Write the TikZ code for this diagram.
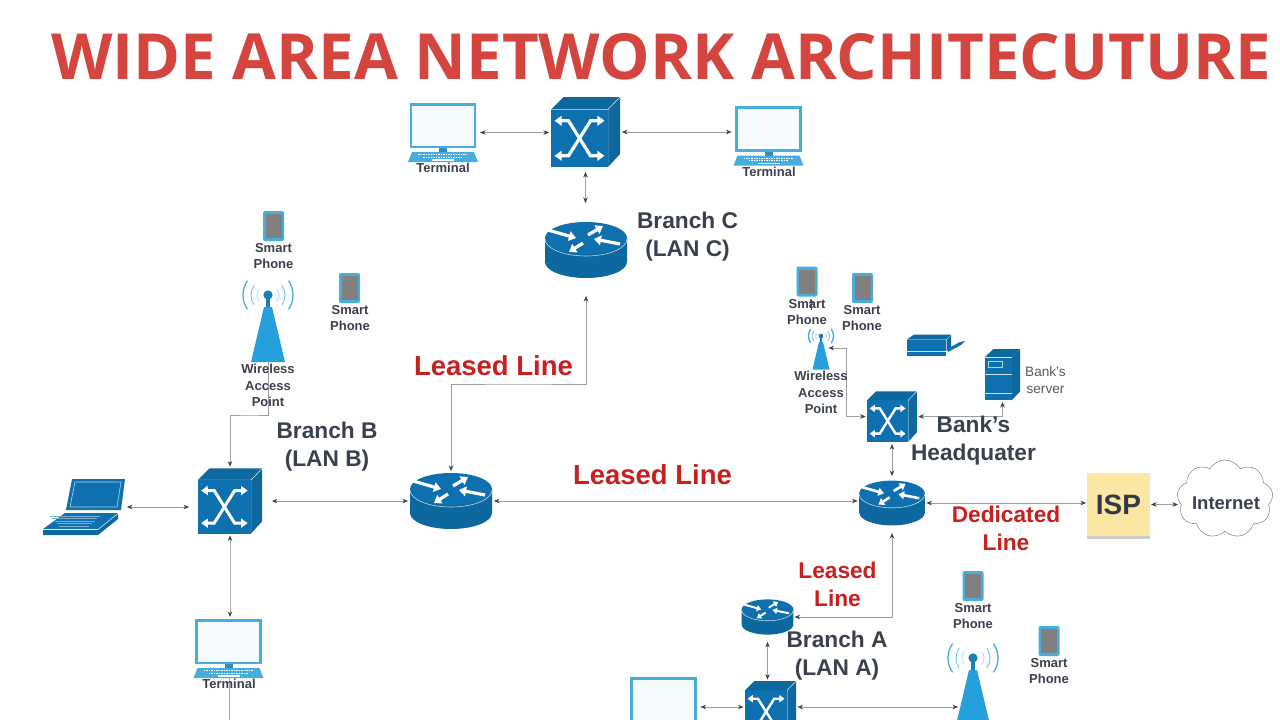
\documentclass[tikz,border=0pt]{standalone}
\usepackage{fontspec}
\setmainfont{Liberation Sans}
\newfontfamily\titlefont{Open Sans}
\usetikzlibrary{arrows.meta,shapes.symbols,shadows}

\definecolor{iconblue}{HTML}{0F70B0}
\definecolor{iconside}{HTML}{0C689F}
\definecolor{skyblue}{HTML}{46ADDC}
\definecolor{towerblue}{HTML}{25A0DC}
\definecolor{towerhead}{HTML}{1A7DB5}
\definecolor{screenfill}{HTML}{F6FBFE}
\definecolor{darktext}{HTML}{3A404C}
\definecolor{leasedred}{HTML}{C81F1F}
\definecolor{titlered}{HTML}{D4453F}
\definecolor{notefill}{HTML}{FBE6A4}

\tikzset{
  iconlw/.store in=\iconlw, iconlw=3.2pt,
  box/.style={inner sep=0pt,outer sep=2pt,transform shape},
  whitearrow/.style={white,line width=\iconlw,-{Triangle[length=0pt 2.2,width=0pt 3]}},
  whitetwoway/.style={white,line width=\iconlw,{Triangle[length=0pt 2.2,width=0pt 3]}-{Triangle[length=0pt 2.2,width=0pt 3]}},
  link/.style={draw=black!38,line width=.6pt,
    {Stealth[length=5.5pt,width=4.5pt,color=black!75]}-{Stealth[length=5.5pt,width=4.5pt,color=black!75]}},
  linkone/.style={draw=black!38,line width=.6pt,-{Stealth[length=5.5pt,width=4.5pt,color=black!75]}},
  small/.style={font=\bfseries\fontsize{13}{16.4}\selectfont,text=darktext,align=center,inner sep=0pt},
  branch/.style={font=\bfseries\fontsize{22.7}{28}\selectfont,text=darktext,align=center,inner sep=0pt},
  leased/.style={font=\bfseries\fontsize{22.7}{27.5}\selectfont,text=leasedred,align=center,inner sep=0pt},
  % switch, origin in the middle of the whole block
  switchbox/.pic={
    \node[box,minimum width=69pt,minimum height=70pt] (-n) at (0,0) {};
    \fill[iconside] (-34.5,-22.5) -- (-22,-35) -- (34.5,-35) -- (22.5,-22.5) -- cycle;
    \fill[iconside] (22.5,-22.5) -- (34.5,-35) -- (34.5,22) -- (22.5,35) -- cycle;
    \draw[white,line width=.4pt] (-34.5,-22.5) -- (22.5,-22.5) -- (34.5,-35) (22.5,-22.5) -- (22.5,35);
    \fill[iconblue] (-34.5,-22.5) rectangle (22.5,35);
    \draw[whitetwoway] (-31,-11.2) -- (-17,-11.2) -- (5,23.8) -- (19,23.8);
    \draw[whitetwoway] (-31,23.8) -- (-17,23.8) -- (5,-11.2) -- (19,-11.2);
  },
  % router
  routerbox/.pic={
    \node[box,minimum width=82pt,minimum height=56pt] (-n) at (0,0) {};
    \fill[iconside] (-41,-12) -- (-41,12) arc[start angle=180,end angle=360,x radius=41,y radius=-16] -- (41,-12) -- cycle;
    \fill[iconblue] (0,-12) ellipse[x radius=41,y radius=16];
    \draw[white!75!iconblue,line width=.6pt] (-41,-11) arc[start angle=180,end angle=360,x radius=41,y radius=-17];
    \draw[whitearrow] (-38,-20) -- (-10,-12);
    \draw[whitearrow] (34,-6) -- (8,-11);
    \draw[whitearrow] (2,-15) -- (17,-24);
    \draw[whitearrow] (-3,-7) -- (-17,2);
  },
  % terminal
  termbox/.pic={
    \node[box,minimum width=70pt,minimum height=59pt] (-n) at (0,0) {};
    \draw[skyblue,fill=screenfill,line width=2.8pt] (-32,-28.3) rectangle (32,14.5);
    \fill[skyblue!80!black] (-4,15.5) rectangle (4,19.5);
    \fill[skyblue] (-31,19.5) -- (31,19.5) -- (35,29.5) -- (-35,29.5) -- cycle;
    \draw[white,line width=1pt,dash pattern=on 1.5pt off 1pt] (-25,22) -- (25,22) (-20,24.5) -- (20,24.5);
    \fill[white] (-11,26.6) rectangle (11,28);
  },
  % phone
  phonebox/.pic={
    \node[box,minimum width=21pt,minimum height=30pt] (-n) at (0,0) {};
    \fill[skyblue,rounded corners=2pt] (-10.5,-15) rectangle (10.5,15);
    \fill[black!50] (-8,-12) rectangle (8,12);
  },
  % antenna, origin at its head
  towerbox/.pic={
    \node[box,outer sep=0pt,minimum width=30pt,minimum height=86pt] (-n) at (0,24) {};
    \fill[towerblue] (-4,12) -- (4,12) -- (17,67) -- (-17,67) -- cycle;
    \fill[towerhead] (-2.4,2) rectangle (2.4,12);
    \fill[towerhead] (0,0) circle[radius=4.6];
    \foreach \rr/\ww/\cc in {25/1.3/100,17/1/70,11/.8/45} {
      \draw[skyblue!\cc!white,line width=\ww pt] (-35:\rr) arc[start angle=-35,end angle=35,radius=\rr];
      \draw[skyblue!\cc!white,line width=\ww pt] (145:\rr) arc[start angle=145,end angle=215,radius=\rr];
    }
  },
  laptopbox/.pic={
    \node[box,minimum width=82pt,minimum height=56pt] (-n) at (0,0) {};
    \fill[iconblue] (-12,-28) -- (41,-28) -- (37,3) -- (-18,3) -- cycle;
    \draw[white!70!iconblue,line width=.6pt] (-9,-25) -- (37,-25) -- (33,0) -- (-14,0) -- cycle;
    \fill[iconblue] (-19,6) -- (34,6) -- (14,22) -- (-41,22) -- cycle;
    \fill[iconside] (-41,23) -- (14,23) -- (34,7) -- (34,12) -- (14,28) -- (-41,28) -- cycle;
    \foreach \kk in {9,11.5,14,16.5,19} {
      \draw[white!45!iconblue,line width=.3pt] (-35+\kk*.9-7,\kk) -- (26-\kk*1.1,\kk);
    }
  },
  printerbox/.pic={
    \node[box,minimum width=58pt,minimum height=21pt] (-n) at (0,0) {};
    \fill[iconside] (-29,-5.5) -- (-22,-10.5) -- (15,-10.5) -- (10,-5.5) -- cycle;
    \fill[iconblue] (-29,-5) rectangle (10,10.5);
    \fill[iconside] (10.5,-5) -- (15,-10) -- (15,2) -- (10.5,6) -- cycle;
    \draw[white!80!iconblue,line width=.4pt] (-29,6.5) -- (10,6.5);
    \fill[iconblue] (11,4) -- (24,-3) -- (29,-4) -- (25,0) -- (12,7) -- cycle;
  },
  serverbox/.pic={
    \node[box,minimum width=35pt,minimum height=51pt] (-n) at (0,0) {};
    \fill[iconside] (-17.5,-17.5) -- (-9,-25.5) -- (17.5,-25.5) -- (9.5,-17.5) -- cycle;
    \fill[iconside] (9.5,-17.5) -- (17.5,-25.5) -- (17.5,17) -- (9.5,25.5) -- cycle;
    \fill[iconblue] (-17.5,-17) rectangle (9.5,25.5);
    \draw[white!80!iconblue,line width=.5pt] (-17.5,-.5) -- (9.5,-.5) (-17.5,18.5) -- (9.5,18.5);
    \draw[white!70!iconblue,line width=.5pt] (-14,-13) rectangle (0,-7.5);
  },
}

\begin{document}
\begin{tikzpicture}[x=1pt,y=-1pt]
\path[use as bounding box,clip] (0,0) rectangle (1280,720);
\fill[white] (0,0) rectangle (1280,720);

\node[font=\titlefont\bfseries\fontsize{63.6}{64}\selectfont,text=titlered,inner sep=0pt] (title) at (661,57) {WIDE AREA NETWORK ARCHITECUTURE};

% switches
\pic (swC) at (585.5,132) {switchbox};
\pic[scale=.93,iconlw=3pt] (swB) at (230,501) {switchbox};
\pic[scale=.72,iconlw=2.4pt] (swHQ) at (892,416.5) {switchbox};
\pic[scale=.74,iconlw=2.4pt] (swA) at (770.5,707) {switchbox};

% routers
\pic (rtC) at (586,250) {routerbox};
\pic (rtB) at (451,501) {routerbox};
\pic[scale=.8,iconlw=2.6pt] (rtHQ) at (892,503) {routerbox};
\pic[scale=.63,iconlw=2pt] (rtA) at (767.5,617) {routerbox};

% terminals
\pic (tmCl) at (443,132.5) {termbox};
\pic (tmCr) at (768.5,136) {termbox};
\pic (tmB) at (228.5,648.5) {termbox};
\pic (tmA) at (663.5,707) {termbox};

% phones
\pic (phBa) at (273.5,226) {phonebox};
\pic (phBb) at (349.5,288) {phonebox};
\pic (phHQa) at (807,281.5) {phonebox};
\pic (phHQb) at (862.5,288) {phonebox};
\pic (phAa) at (973,586) {phonebox};
\pic (phAb) at (1049,641) {phonebox};

% antennas
\pic (twB) at (268,295) {towerbox};
\pic[scale=.5] (twHQ) at (821,336) {towerbox};
\pic (twA) at (973,658) {towerbox};

\pic (lapB) at (84,507) {laptopbox};
\pic (prHQ) at (936,345) {printerbox};
\pic (srvHQ) at (1002.5,374.5) {serverbox};

\node[draw=none,fill=notefill,minimum width=63pt,minimum height=63pt,inner sep=0pt,outer sep=1pt,
  drop shadow={shadow xshift=0pt,shadow yshift=-3pt,opacity=.4},
  font=\bfseries\fontsize{28}{28}\selectfont,text=darktext!90!black] (isp) at (1118.5,504.5) {ISP};
\node[cloud,cloud puffs=9,cloud puff arc=120,aspect=1.25,draw=black!50,line width=.5pt,
  minimum width=96pt,minimum height=78pt,inner sep=0pt,outer sep=0pt] (cloudnet) at (1225,499) {};

% connectors
\coordinate (jogBC) at (518,384);
\coordinate (jogB) at (250,415);
\coordinate (tmBtop) at (229,678);
\coordinate (tmBend) at (229,725);
\coordinate (phHQtail) at (811,310);

\draw[link] (tmCl-n.east) -- (tmCl-n.east -| swC-n.west);
\draw[link] (swC-n.east) -- (swC-n.east -| tmCr-n.west);
\draw[link,shorten <=3pt,shorten >=17pt] (swC-n.south) -- (swC-n.south |- rtC-n.north);
\draw[link,shorten >=16pt] (rtB-n.north) |- (jogBC) -| (rtC-n.south);
\draw[link,shorten <=8pt] (swB-n.east) -- (rtB-n.west);
\draw[link] (rtB-n.east) -- (rtB-n.east -| rtHQ-n.west);
\draw[link,shorten >=7pt] (lapB-n.east) -- (lapB-n.east -| swB-n.west);
\draw[link,draw=black!30,line width=1pt] (swB-n.south) -- (swB-n.south |- tmB-n.north);
\draw[draw=black!35,line width=1pt] (tmBtop) -- (tmBend);
\draw[linkone] (twB-n.south) |- (jogB) -| (swB-n.north);
\draw[link,shorten <=1pt,shorten >=3pt] (swHQ-n.south) -- (rtHQ-n.north);
\draw[link] (twHQ-n.east) -- ++(18,0) |- (swHQ-n.west);
\draw[link] (swHQ-n.east) -| (srvHQ-n.south);
\draw[linkone,draw=black!70] (phHQtail) -- (phHQtail |- phHQa-n.south);
\draw[link] (rtHQ-n.east) -- (rtHQ-n.east -| isp.west);
\draw[link] (isp.east) -- (isp.east -| cloudnet.west);
\draw[link,shorten >=6pt] (rtA-n.east) -| (rtHQ-n.south);
\draw[link,shorten <=6pt] (rtA-n.south) -- (rtA-n.south |- swA-n.north);
\draw[link] (tmA-n.east) -- (tmA-n.east -| swA-n.west);
\draw[link] (swA-n.east) -- (swA-n.east -| twA-n.west);

% labels
\node[small] (lbTa) at (443,168) {Terminal};
\node[small] (lbTb) at (769,172) {Terminal};
\node[small] (lbTc) at (229,684) {Terminal};
\node[small] (lbPa) at (273.5,256) {Smart\\Phone};
\node[small] (lbPb) at (350,318) {Smart\\Phone};
\node[small] (lbPc) at (807,312) {Smart\\Phone};
\node[small] (lbPd) at (862,318) {Smart\\Phone};
\node[small] (lbPe) at (973,616) {Smart\\Phone};
\node[small] (lbPf) at (1049,671) {Smart\\Phone};
\node[small] (lbWa) at (268,385.5) {Wireless\\Access\\Point};
\node[small] (lbWb) at (821,392.5) {Wireless\\Access\\Point};
\node[align=center,inner sep=0pt,text=black!65,font=\fontsize{13.6}{16.4}\selectfont] (lbSrv) at (1045.5,380) {Bank's\\server};
\node[branch] (lbC) at (687.5,237) {Branch C\\(LAN C)};
\node[branch] (lbB) at (327,446.5) {Branch B\\(LAN B)};
\node[branch] (lbA) at (837,655.5) {Branch A\\(LAN A)};
\node[branch] (lbHQ) at (973.5,440.5) {Bank's\\Headquater};
\node[leased,font=\bfseries\fontsize{27.5}{30}\selectfont] (lbLa) at (493.5,366) {Leased Line};
\node[leased,font=\bfseries\fontsize{27.5}{30}\selectfont] (lbLb) at (652.5,475) {Leased Line};
\node[leased] (lbLc) at (837.5,584.5) {Leased\\Line};
\node[leased] (lbDl) at (1006,528.5) {Dedicated\\Line};
\node[font=\bfseries\fontsize{18.5}{20}\selectfont,text=darktext,inner sep=0pt] (lbNet) at (1226,503) {Internet};
\end{tikzpicture}
\end{document}
